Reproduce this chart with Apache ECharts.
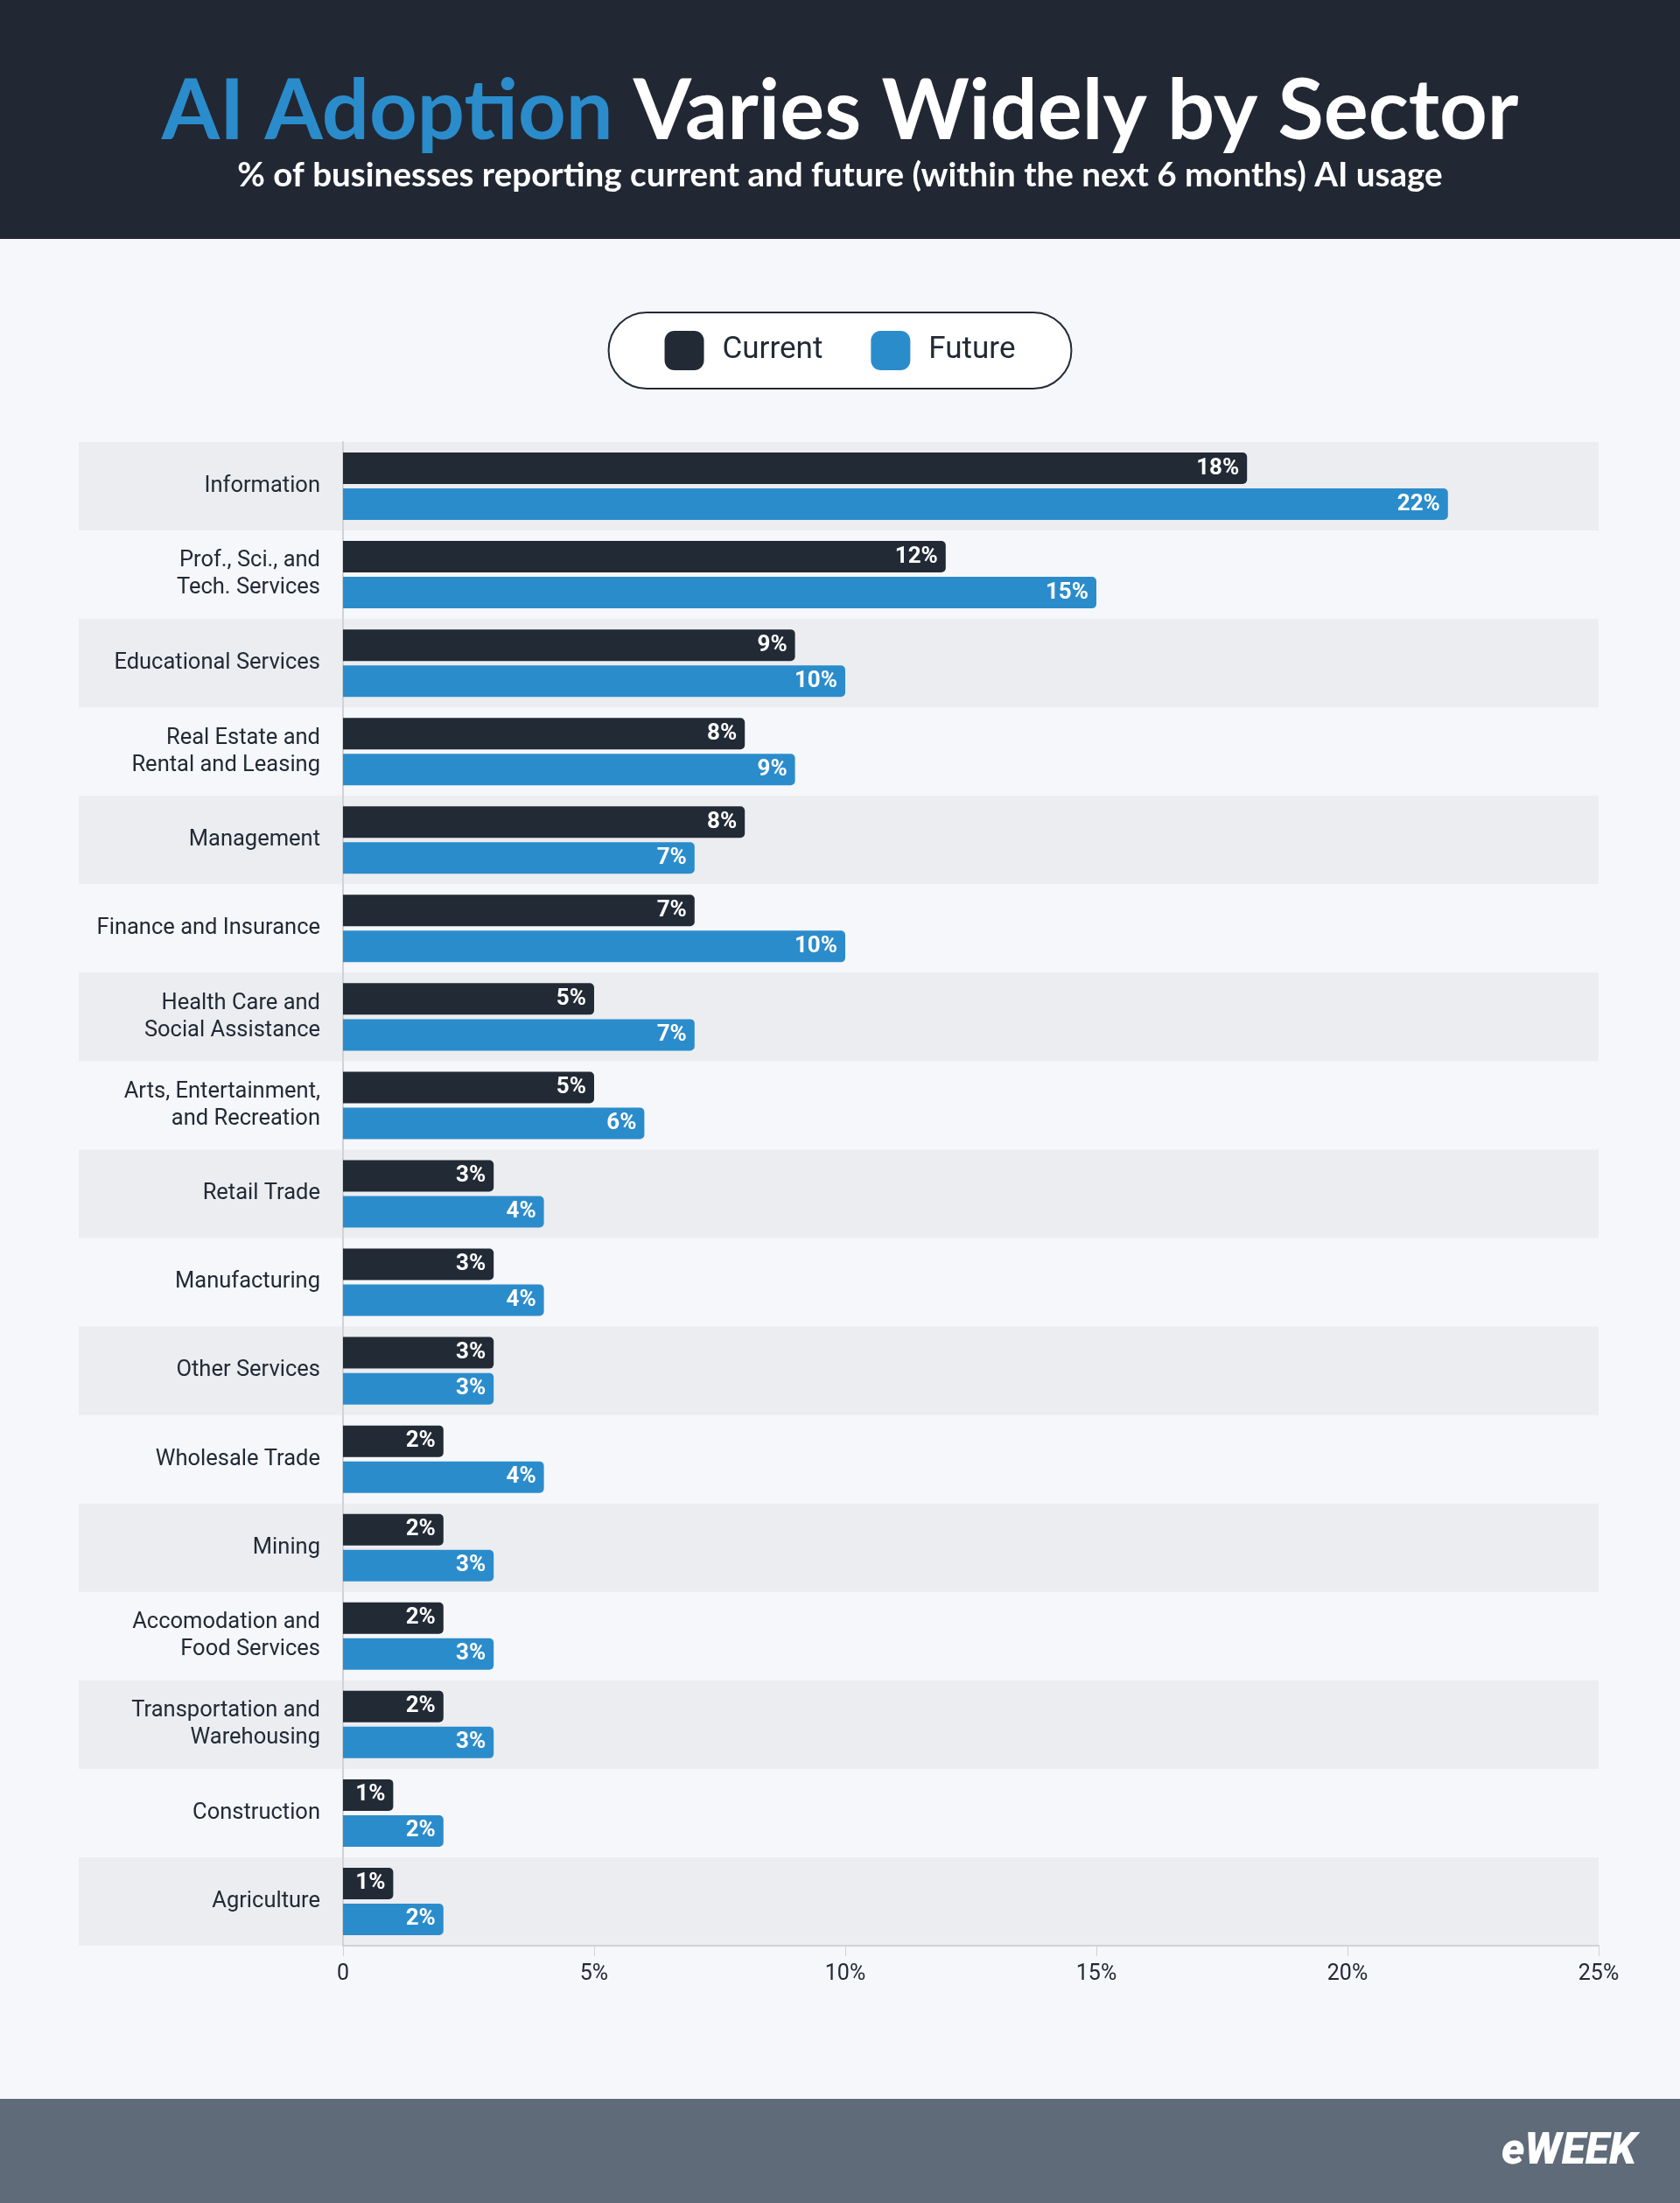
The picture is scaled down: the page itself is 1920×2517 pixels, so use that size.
<!DOCTYPE html>
<html>
<head>
<meta charset="utf-8">
<script src="https://cdn.jsdelivr.net/npm/echarts@6/dist/echarts.min.js"></script>
<style>
html,body{margin:0;padding:0;background:#f5f7fb;}
#c{width:1920px;height:2517px;}
</style>
</head>
<body>
<div id="c"></div>
<script>
const categories = [
  'Information',
  'Prof., Sci., and\nTech. Services',
  'Educational Services',
  'Real Estate and\nRental and Leasing',
  'Management',
  'Finance and Insurance',
  'Health Care and\nSocial Assistance',
  'Arts, Entertainment,\nand Recreation',
  'Retail Trade',
  'Manufacturing',
  'Other Services',
  'Wholesale Trade',
  'Mining',
  'Accomodation and\nFood Services',
  'Transportation and\nWarehousing',
  'Construction',
  'Agriculture'
];
const currentValues = [18, 12, 9, 8, 8, 7, 5, 5, 3, 3, 3, 2, 2, 2, 2, 1, 1];
const futureValues  = [22, 15, 10, 9, 7, 10, 7, 6, 4, 4, 3, 4, 3, 3, 3, 2, 2];
const xTicks = { min: 0, max: 25, interval: 5 };
const seriesNames = ['Current', 'Future'];

const chart = echarts.init(document.getElementById('c'), null, { renderer: 'canvas' });

const C_DARK = '#222a35';
const C_BLUE = '#2b8ccc';

const option = {
  backgroundColor: '#f5f7fb',
  animation: false,
  title: {
    left: 'center',
    top: 75,
    text: '{a|AI Adoption}{b| Varies Widely by Sector}',
    textStyle: {
      rich: {
        a: { fontFamily: 'Lato', fontWeight: 'bold', fontSize: 95.5, color: C_BLUE },
        b: { fontFamily: 'Lato', fontWeight: 'bold', fontSize: 95.5, color: '#ffffff' }
      }
    },
    subtext: '% of businesses reporting current and future (within the next 6 months) AI usage',
    subtextStyle: { fontFamily: 'Lato', fontWeight: 'bold', fontSize: 38.6, color: '#ffffff' },
    itemGap: 5
  },
  legend: {
    data: seriesNames,
    top: 357,
    left: 'center',
    icon: 'roundRect',
    itemWidth: 45,
    itemHeight: 45,
    itemGap: 55,
    backgroundColor: '#ffffff',
    borderColor: '#222a35',
    borderWidth: 2,
    borderRadius: 45,
    padding: [21, 64, 21, 64],
    textStyle: { fontFamily: 'Roboto', fontSize: 35, color: '#222a35', padding: [0, 0, 0, 16] }
  },
  graphic: [
    { type: 'rect', z: -10, shape: { x: 0, y: 0, width: 1920, height: 273 }, style: { fill: '#212833' } },
    { type: 'rect', z: -10, shape: { x: 0, y: 2398, width: 1920, height: 119 }, style: { fill: '#5f6b79' } },
    { type: 'text', z: 10, right: 50, top: 2434,
      style: { text: 'eWEEK', fill: '#ffffff', font: 'italic 900 50px Roboto' } }
  ],
  grid: [
    { left: 392, right: 93, top: 505, bottom: 294, containLabel: false },
    { left: 90, right: 93, top: 505, bottom: 294, containLabel: false }
  ],
  xAxis: [
    {
      type: 'value', gridIndex: 0,
      min: xTicks.min, max: xTicks.max, interval: xTicks.interval,
      axisLine: { show: true, lineStyle: { color: '#cfd2d8', width: 2 } },
      axisTick: { show: true, length: 12, lineStyle: { color: '#cfd2d8' } },
      splitLine: { show: false },
      axisLabel: {
        margin: 20, fontFamily: 'Roboto', fontSize: 25, color: '#222a35',
        formatter: v => v === 0 ? '0' : v + '%'
      }
    },
    {
      type: 'value', gridIndex: 1, min: 0, max: 1, show: false
    }
  ],
  yAxis: [
    {
      type: 'category', gridIndex: 0, data: categories, inverse: true,
      axisLine: { show: true, lineStyle: { color: '#cfd2d8', width: 2 } },
      axisTick: { show: false },
      splitArea: { show: false },
      axisLabel: {
        margin: 26, fontFamily: 'Roboto', fontSize: 25.5, color: '#222a35',
        lineHeight: 31, align: 'right', padding: [3, 0, 0, 0]
      }
    },
    {
      type: 'category', gridIndex: 1, data: categories, inverse: true,
      axisLine: { show: false }, axisTick: { show: false }, axisLabel: { show: false },
      splitLine: { show: false },
      splitArea: { show: true, areaStyle: { color: ['#ebedf1', 'rgba(0,0,0,0)'] } },
      z: -1
    }
  ],
  series: [
    {
      name: seriesNames[0], type: 'bar', xAxisIndex: 0, yAxisIndex: 0,
      data: currentValues, barWidth: 36, barGap: '14%',
      itemStyle: { color: C_DARK, borderRadius: [0, 5, 5, 0] },
      label: {
        show: true, position: 'insideRight', distance: 9,
        formatter: '{c}%', color: '#ffffff', fontFamily: 'Roboto', fontWeight: 'bold', fontSize: 26,
        padding: [3, 0, 0, 0]
      }
    },
    {
      name: seriesNames[1], type: 'bar', xAxisIndex: 0, yAxisIndex: 0,
      data: futureValues, barWidth: 36,
      itemStyle: { color: C_BLUE, borderRadius: [0, 5, 5, 0] },
      label: {
        show: true, position: 'insideRight', distance: 9,
        formatter: '{c}%', color: '#ffffff', fontFamily: 'Roboto', fontWeight: 'bold', fontSize: 26,
        padding: [3, 0, 0, 0]
      }
    }
  ]
};
chart.setOption(option);
</script>
</body>
</html>
